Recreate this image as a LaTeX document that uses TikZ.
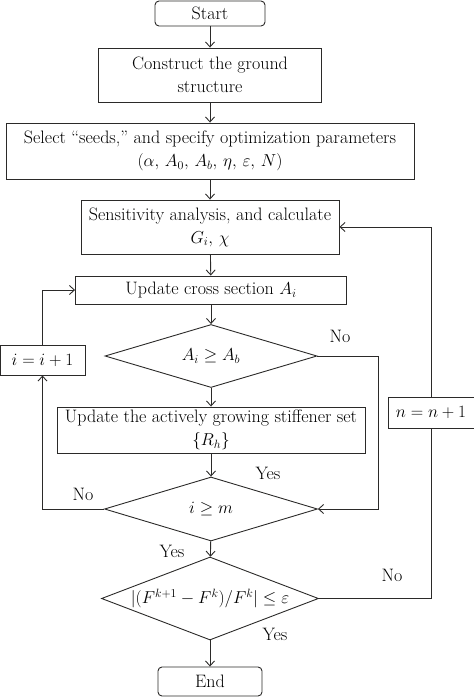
\documentclass[tikz,border=0pt]{standalone}
\usepackage{xcolor}
\usetikzlibrary{shapes.geometric,arrows.meta}
\definecolor{flowink}{HTML}{2B2A29}

\begin{document}
\begin{tikzpicture}[x=1pt,y=-1pt,font=\fontsize{18}{23}\selectfont,
  point/.style={coordinate},
  block/.style={draw=flowink, line width=0.9pt, rectangle, align=center, inner sep=2pt, text=black},
  term/.style={block, rounded corners=4pt},
  test/.style={draw=flowink, line width=0.9pt, diamond, aspect=2.6, inner sep=0pt, text=black},
  tag/.style={text=black, inner sep=0pt},
  line/.style={draw=flowink, line width=0.9pt},
  go/.style={line, -{Straight Barb[length=5pt,width=9pt]}}]
\useasboundingbox (0,0) rectangle (474,697);
\node[term, minimum width=110, minimum height=25] (1) at (210,13.5) {Start};
\node[block, minimum width=223, minimum height=54] (2) at (210,75) {Construct the ground\\structure};
\node[block, minimum width=408, minimum height=56] (3) at (210,151) {Select “seeds,” and specify optimization parameters\\$(\alpha,\,A_0,\,A_b,\,\eta,\,\varepsilon,\,N)$};
\node[block, minimum width=258, minimum height=54] (4) at (210,227) {Sensitivity analysis, and calculate\\$G_i,\,\chi$};
\node[block, minimum width=271, minimum height=28] (5) at (211,290) {Update cross section $A_i$};
\node[test, minimum width=212, minimum height=63] (6) at (211,356) {$A_i \geq A_b$};
\node[block, minimum width=85, minimum height=30] (7) at (42.5,360) {$i = i + 1$};
\node[block, minimum width=308, minimum height=46] (8) at (211,430) {Update the actively growing stiffener set\\$\{R_h\}$};
\node[test, minimum width=213, minimum height=64] (9) at (211,509) {$i \geq m$};
\node[test, minimum width=217, minimum height=83] (10) at (210,598.5) {$|(F^{k+1} - F^k)/F^k| \leq \varepsilon$};
\node[term, minimum width=104, minimum height=29] (11) at (210,681.5) {End};
\node[block, minimum width=86, minimum height=31] (12) at (431,412.5) {$n = n + 1$};
\node[point] (13) at (378,356) {};
\node[point] (14) at (378,509) {};
\node[point] (15) at (42.5,509) {};
\node[point] (16) at (42.5,290) {};
\node[point] (17) at (431,598.5) {};
\node[point] (18) at (431,227) {};
\node[tag] (19) at (340,336) {No};
\node[tag] (20) at (268,473) {Yes};
\node[tag] (21) at (83,494) {No};
\node[tag] (22) at (172,551) {Yes};
\node[tag] (23) at (392,575) {No};
\node[tag] (24) at (275,634) {Yes};
\draw[go] (1) -- (2);
\draw[go] (2) -- (3);
\draw[go] (3) -- (4);
\draw[go] (4) -- (5);
\draw[go] (5) -- (6);
\draw[go] (6) -- (8);
\draw[go] (8) -- (9);
\draw[go] (9) -- (10);
\draw[go] (10) -- (11);
\draw[go] (6.east) -- (13) -- (14) -- (9.east);
\draw[go] (9.west) -- (15) -- (7.south);
\draw[go] (7.north) -- (16) -- (5.west);
\draw[line] (10.east) -- (17) -- (12.south);
\draw[go] (12.north) -- (18) -- (4.east);
\end{tikzpicture}
\end{document}
